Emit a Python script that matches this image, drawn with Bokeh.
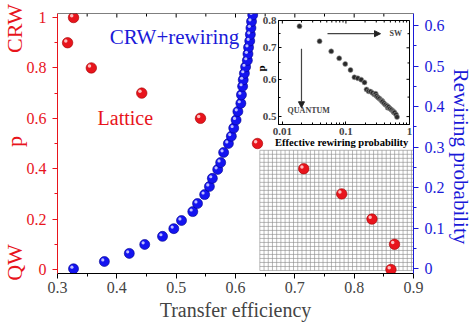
import numpy as np
from bokeh.plotting import figure
from bokeh.models import (Range1d, LinearAxis, FixedTicker, BasicTickFormatter,
                          CustomJSTickFormatter, Label, Arrow, NormalHead, GridBox, Span)
from bokeh.embed import file_html
from bokeh.resources import INLINE

# ---------------- data ----------------
crw_efficiency = [0.327, 0.317, 0.357, 0.442, 0.541, 0.637, 0.715, 0.779, 0.830, 0.868, 0.862]
crw_p = [1.0, 0.9, 0.8, 0.7, 0.6, 0.5, 0.4, 0.3, 0.2, 0.1, 0.0]

rewiring_efficiency = [0.327, 0.379, 0.421, 0.447, 0.477, 0.496, 0.509, 0.528, 0.536, 0.548,
                       0.556, 0.561, 0.570, 0.575, 0.580, 0.588, 0.593, 0.597, 0.601, 0.604,
                       0.609, 0.610, 0.612, 0.613, 0.615, 0.617, 0.620, 0.621, 0.622, 0.624,
                       0.625, 0.626, 0.627, 0.629]
rewiring_probability = [0.000, 0.018, 0.038, 0.060, 0.080, 0.099, 0.119, 0.141, 0.161, 0.183,
                        0.203, 0.223, 0.245, 0.262, 0.287, 0.309, 0.327, 0.347, 0.367, 0.388,
                        0.408, 0.429, 0.450, 0.466, 0.482, 0.498, 0.514, 0.530, 0.546, 0.562,
                        0.578, 0.594, 0.610, 0.626]

inset_rewiring = [0.0186, 0.0385, 0.0587, 0.0784, 0.0975, 0.118, 0.136, 0.154, 0.174, 0.196,
                  0.211, 0.227, 0.244, 0.262, 0.281, 0.294, 0.303, 0.320, 0.337, 0.356,
                  0.369, 0.376, 0.397, 0.419, 0.443, 0.455, 0.467, 0.493, 0.521, 0.550,
                  0.564, 0.581, 0.613, 0.636]
inset_p = [0.778, 0.723, 0.688, 0.665, 0.647, 0.628, 0.606, 0.603, 0.599, 0.591,
           0.571, 0.566, 0.565, 0.561, 0.557, 0.559, 0.553, 0.549, 0.546, 0.542,
           0.540, 0.538, 0.534, 0.530, 0.527, 0.522, 0.524, 0.520, 0.517, 0.514,
           0.511, 0.510, 0.505, 0.499]

x_ticks = [0.3, 0.4, 0.5, 0.6, 0.7, 0.8, 0.9]
x_minor = [0.35, 0.45, 0.55, 0.65, 0.75, 0.85]
p_ticks = [0.0, 0.2, 0.4, 0.6, 0.8, 1.0]
p_minor = [0.1, 0.3, 0.5, 0.7, 0.9]
rew_ticks = [0.0, 0.1, 0.2, 0.3, 0.4, 0.5, 0.6]
rew_minor = [0.05, 0.15, 0.25, 0.35, 0.45, 0.55]
inset_x_ticks = [0.01, 0.1, 1.0]
inset_x_labels = ["0.01", "0.1", "1"]
inset_y_ticks = [0.5, 0.6, 0.7, 0.8]
inset_y_labels = ["0.5", "0.6", "0.7", "0.8"]

RED = "#e8141c"
BLUE = "#1a1ad8"
SERIF = "Liberation Serif"
W, H = 474, 323

X0, X1 = 0.3, 0.9
P0, P1 = -0.016, 1.016
R0, R1 = -0.0116, 0.6296
PX_PER_P = 260 / (P1 - P0)

# ---------------- main figure ----------------
p = figure(width=W, height=H, output_backend="svg", toolbar_location=None,
           x_range=Range1d(X0, X1), y_range=Range1d(P0, P1),
           min_border_left=57, min_border_right=61, min_border_top=13, min_border_bottom=50)
p.extra_y_ranges = {"rew": Range1d(R0, R1)}
p.outline_line_color = None
p.grid.visible = False
p.background_fill_color = "white"
p.border_fill_color = "white"

xa = p.xaxis[0]
xa.ticker = FixedTicker(ticks=x_ticks, minor_ticks=x_minor)
xa.formatter = BasicTickFormatter(precision=1)
xa.axis_label = "Transfer efficiency"
xa.axis_label_text_font = SERIF
xa.axis_label_text_font_style = "normal"
xa.axis_label_text_font_size = "20px"
xa.axis_label_standoff = 3
xa.major_label_text_font = SERIF
xa.major_label_text_font_size = "16px"
xa.major_label_standoff = 3
xa.major_tick_out = 5
xa.major_tick_in = 0
xa.minor_tick_out = 3
xa.minor_tick_in = 0
xa.axis_line_color = "black"

ya = p.yaxis[0]
ya.ticker = FixedTicker(ticks=p_ticks, minor_ticks=p_minor)
ya.formatter = BasicTickFormatter(precision=1)
ya.major_label_text_font = SERIF
ya.major_label_text_font_size = "16px"
ya.major_label_text_color = RED
ya.major_label_standoff = 6
ya.axis_line_color = RED
ya.major_tick_line_color = RED
ya.minor_tick_line_color = RED
ya.major_tick_out = 5
ya.major_tick_in = 0
ya.minor_tick_out = 3
ya.minor_tick_in = 0

ra = LinearAxis(y_range_name="rew", ticker=FixedTicker(ticks=rew_ticks, minor_ticks=rew_minor),
                formatter=BasicTickFormatter(precision=1))
ra.major_label_text_font = SERIF
ra.major_label_text_font_size = "16px"
ra.major_label_text_color = BLUE
ra.major_label_standoff = 6
ra.axis_line_color = BLUE
ra.major_tick_line_color = BLUE
ra.minor_tick_line_color = BLUE
ra.major_tick_out = 5
ra.major_tick_in = 0
ra.minor_tick_out = 3
ra.minor_tick_in = 0
p.add_layout(ra, "right")

# top frame line with inward ticks
p.add_layout(Span(location=P1, dimension="width", line_color="black", line_width=1))
p.segment(x0=x_ticks, y0=P1, x1=x_ticks, y1=P1 - 4 / PX_PER_P, line_color="black", line_width=1)
p.segment(x0=x_minor, y0=P1, x1=x_minor, y1=P1 - 3 / PX_PER_P, line_color="black", line_width=1)

# lattice picture (decoration)
lat_vx = np.arange(0.641, 0.9, 0.0071)
lat_hy = np.arange(-0.004, 0.476, 0.0159)
p.segment(x0=lat_vx, y0=-0.004, x1=lat_vx, y1=0.473, line_color="#8a8a8a", line_width=0.6)
p.segment(x0=0.641, y0=lat_hy, x1=0.9, y1=lat_hy, line_color="#8a8a8a", line_width=0.6)

# points
p.scatter(crw_efficiency, crw_p, size=10.5, fill_color=RED, line_color="#a00000", line_width=0.6)
p.scatter(np.array(crw_efficiency) - 1.8 / 593, np.array(crw_p) + 1.8 / 252,
          size=3.5, fill_color="#ffd0d0", line_color=None, fill_alpha=0.9)
p.scatter(rewiring_efficiency, rewiring_probability, y_range_name="rew", size=10,
          fill_color="#1414f0", line_color="#00008a", line_width=0.6)
p.scatter(np.array(rewiring_efficiency) - 1.6 / 593, np.array(rewiring_probability) + 1.6 / 405.5,
          y_range_name="rew", size=3.2, fill_color="#d0d0ff", line_color=None, fill_alpha=0.9)

# texts inside the frame
p.add_layout(Label(x=0.388, y=0.921, text="CRW+rewiring", text_font=SERIF, text_font_size="21px",
                   text_color=BLUE, text_baseline="alphabetic"))
p.add_layout(Label(x=0.3675, y=0.603, text="Lattice", text_font=SERIF, text_font_size="20px",
                   text_color=RED, text_baseline="alphabetic"))
p.add_layout(Label(x=0.6423, y=0.798, text="p", angle=np.pi / 2, text_font=SERIF,
                   text_font_style="bold", text_font_size="11px", text_color="black",
                   text_align="center", text_baseline="middle"))
p.add_layout(Label(x=0.779, y=0.504, text="Effective rewiring probability", text_font=SERIF,
                   text_font_style="bold", text_font_size="10.5px", text_color="black",
                   text_align="center", text_baseline="middle"))

# ---------------- inset ----------------
IX0, IX1 = 0.0087, 1.0
IY0, IY1 = 0.481, 0.8
ins = figure(width=165, height=140, x_axis_type="log", y_axis_type="log",
             x_range=Range1d(IX0, IX1), y_range=Range1d(IY0, IY1),
             output_backend="svg", toolbar_location=None,
             min_border_left=26, min_border_right=8, min_border_top=10, min_border_bottom=26)
ins.border_fill_color = None
ins.background_fill_color = "white"
ins.outline_line_color = "black"
ins.grid.visible = False

x_minor_in = [m * d for d in (0.01, 0.1) for m in range(2, 10)]
y_minor_in = [0.55, 0.65, 0.75]

fmt_code = "const i = vals.findIndex(v => Math.abs(v - tick) < 1e-9 * Math.max(1, v)); return i >= 0 ? labs[i] : String(tick);"
ix = ins.xaxis[0]
ix.ticker = FixedTicker(ticks=inset_x_ticks, minor_ticks=x_minor_in)
ix.formatter = CustomJSTickFormatter(args=dict(vals=inset_x_ticks, labs=inset_x_labels), code=fmt_code)
iy = ins.yaxis[0]
iy.ticker = FixedTicker(ticks=inset_y_ticks, minor_ticks=y_minor_in)
iy.formatter = CustomJSTickFormatter(args=dict(vals=inset_y_ticks, labs=inset_y_labels), code=fmt_code)
for ax in (ix, iy):
    ax.major_label_text_font = SERIF
    ax.major_label_text_font_style = "bold"
    ax.major_label_text_font_size = "11px"
    ax.major_tick_in = 3
    ax.major_tick_out = 0
    ax.minor_tick_in = 2
    ax.minor_tick_out = 0
ix.major_label_standoff = 3
iy.major_label_standoff = 2

# inward ticks on the inset's top and right edges
top_in = 10 ** (-3 / 470)
top_in_minor = 10 ** (-2 / 470)
right_in = 10 ** (-3 / 63.6)
right_in_minor = 10 ** (-2 / 63.6)
ins.segment(x0=inset_x_ticks, y0=IY1, x1=inset_x_ticks, y1=IY1 * top_in, line_color="black")
ins.segment(x0=x_minor_in, y0=IY1, x1=x_minor_in, y1=IY1 * top_in_minor, line_color="black")
ins.segment(x0=IX1, y0=inset_y_ticks, x1=IX1 * right_in, y1=inset_y_ticks, line_color="black")
ins.segment(x0=IX1, y0=y_minor_in, x1=IX1 * right_in_minor, y1=y_minor_in, line_color="black")

ins.scatter(inset_rewiring, inset_p, size=5, fill_color="#2a2a2a", line_color="#9a9a9a",
            line_width=0.6)

ins.add_layout(Arrow(x_start=0.0513, y_start=0.75, x_end=0.35, y_end=0.75,
                     line_color="#444444", line_width=1.2,
                     end=NormalHead(size=6, fill_color="#222222", line_color="#222222")))
ins.add_layout(Arrow(x_start=0.020, y_start=0.697, x_end=0.020, y_end=0.522,
                     line_color="#444444", line_width=1.2,
                     end=NormalHead(size=6, fill_color="#222222", line_color="#222222")))
ins.add_layout(Label(x=0.484, y=0.75, text="SW", text_font=SERIF, text_font_style="bold",
                     text_font_size="8px", text_baseline="middle"))
ins.add_layout(Label(x=0.0121, y=0.515, text="QUANTUM", text_font=SERIF, text_font_style="bold",
                     text_font_size="8px", text_baseline="middle"))


# ---------------- side strips for the axis titles (page pixel coordinates) ----------------
def strip(x_lo, x_hi, y_lo, y_hi):
    f = figure(width=x_hi - x_lo, height=y_hi - y_lo,
               x_range=Range1d(x_lo, x_hi), y_range=Range1d(H - y_hi, H - y_lo),
               output_backend="svg", toolbar_location=None,
               min_border=0, min_border_left=0, min_border_right=0,
               min_border_top=0, min_border_bottom=0,
               x_axis_location=None, y_axis_location=None)
    f.outline_line_color = None
    f.background_fill_color = None
    f.border_fill_color = None
    f.grid.visible = False
    return f


left = strip(1, 28, 1, 322)
left_titles = [("CRW", 28), ("p", 141), ("QW", 262)]
for txt, ytop in left_titles:
    left.add_layout(Label(x=13.6, y=H - ytop, text=txt, angle=np.pi / 2, text_font=SERIF,
                          text_font_size="22px", text_color=RED, text_align="center",
                          text_baseline="middle"))

right = strip(446, 473, 1, 322)
right.add_layout(Label(x=460.8, y=H - 156, text="Rewiring probability", angle=-np.pi / 2,
                       text_font=SERIF, text_font_size="21px", text_color=BLUE,
                       text_align="center", text_baseline="middle"))

cols = ["1px", "27px", "224px", "165px", "29px", "27px", "1px"]
rows = ["1px", "9px", "140px", "172px", "1px"]
layout = GridBox(children=[(p, 0, 0, 5, 7), (ins, 2, 3), (left, 1, 1, 3, 1), (right, 1, 5, 3, 1)],
                 rows=rows, cols=cols)

open("out.html", "w").write(file_html(layout, INLINE))
